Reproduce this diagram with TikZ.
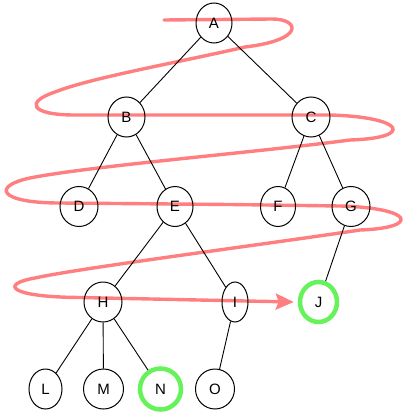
\documentclass[tikz,border=0pt]{standalone}
\usepackage{fontspec}
\setmainfont{Liberation Sans}
\usetikzlibrary{arrows.meta,shapes.geometric,backgrounds}
\definecolor{trailred}{HTML}{FF7F80}
\definecolor{goalgreen}{HTML}{66F25A}
\tikzset{
  vertex/.style={ellipse,draw=black,line width=1pt,inner sep=0pt,
    minimum height=40pt,font=\fontsize{15}{15}\selectfont},
  goal/.style={vertex,draw=goalgreen,line width=4.5pt},
  branch/.style={draw=black,line width=0.9pt},
  trail/.style={draw=trailred,line width=3.4pt,line cap=round,
    -{Stealth[length=18pt,width=16pt,inset=3pt]}}
}
\begin{document}
\begin{tikzpicture}[x=1pt,y=-1pt]
        \useasboundingbox (0,0) rectangle (413,415);
        % nodes
        \foreach \n/\x/\y/\w in {A/214/23/36, B/126.5/117/37, C/311/117/38,
          D/79/206.5/38, E/175/206.5/36, F/278/206.5/35, G/351/206.5/38,
          H/103/302/38, I/235/302/26, L/45.5/389/33, M/103.5/389/40,
          O/215/389/39}{
          \node[vertex,minimum width=\w pt] (\n) at (\x,\y) {\n};}
        \node[goal,minimum width=37pt] (J) at (318.5,302) {J};
        \node[goal,minimum width=41pt,minimum height=41pt] (N) at (160.5,389) {N};
        % tree edges
        \foreach \a/\b in {A/B,A/C,B/D,B/E,C/F,C/G,E/H,E/I,G/J,H/L,H/M,H/N,I/O}{
          \draw[branch] (\a) -- (\b);}
        % traversal order
        \begin{scope}[on background layer]
        \draw[trail] (164,20) -- (272,19)
          .. controls (300,19) and (305,40) .. (245,47)
          .. controls (180,62) and (90,78) .. (55,92)
          .. controls (25,102) and (30,115) .. (75,115)
          -- (330,115)
          .. controls (405,117) and (415,138) .. (350,140)
          .. controls (260,152) and (90,166) .. (30,178)
          .. controls (-8,186) and (-2,203) .. (60,203)
          -- (230,204.5) -- (340,206)
          .. controls (415,208) and (420,228) .. (360,230)
          .. controls (260,245) and (80,268) .. (35,278)
          .. controls (0,284) and (8,297) .. (80,297.5)
          -- ([xshift=-4pt]J.west);
        \end{scope}
      \end{tikzpicture}
\end{document}
